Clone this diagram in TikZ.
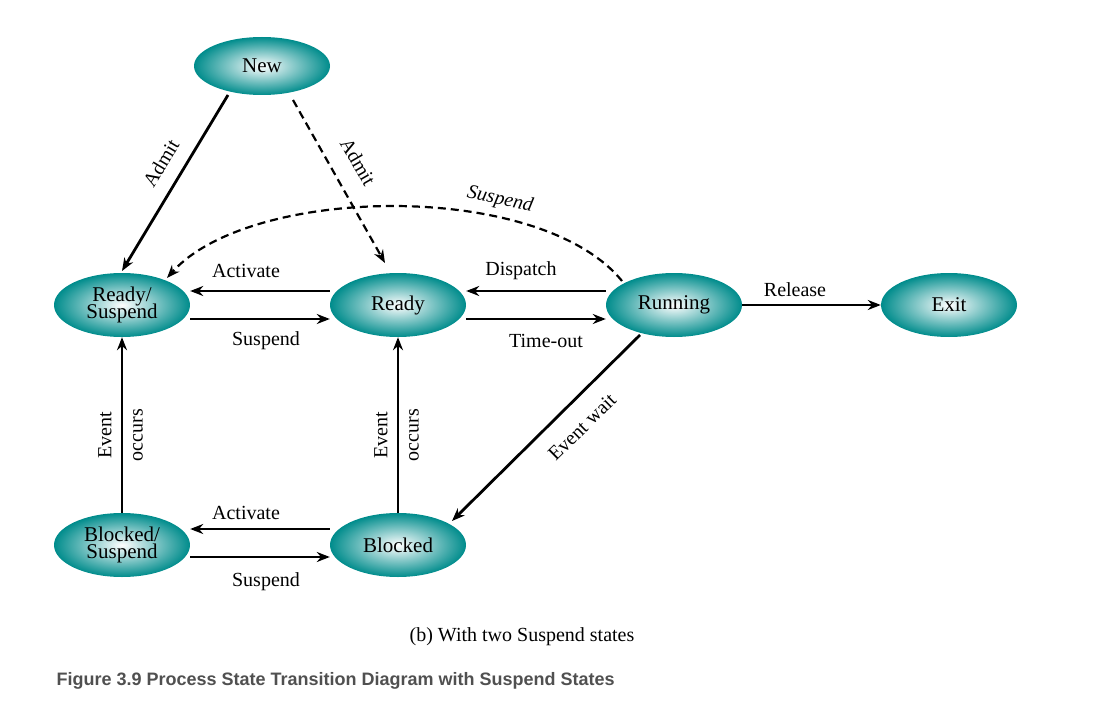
\documentclass[tikz,border=0pt]{standalone}
\usepackage{fontspec}
\setmainfont{Liberation Serif}
\newfontfamily\capfont{Liberation Sans}
\usetikzlibrary{shapes.geometric,arrows.meta}
\definecolor{teal1}{RGB}{0,140,140}
\definecolor{capgray}{RGB}{80,80,80}
\begin{document}
\begin{tikzpicture}[x=1pt,y=-1pt,
  st/.style={ellipse,minimum width=136pt,minimum height=64pt,inner color=white,outer color=teal1,font=\fontsize{21}{21}\selectfont,align=center,inner sep=0pt},
  lab/.style={font=\fontsize{20}{20}\selectfont,inner sep=1pt},
  arr/.style={line width=2.8pt,-{Stealth[length=13pt,width=10pt]}},
  darr/.style={arr,line width=2.2pt,dash pattern=on 8pt off 5pt}]
\useasboundingbox (0,0) rectangle (1108,706);
\node[st,minimum height=58pt] (new) at (262,66) {New};
\node[st] (rs) at (122,305) {Ready/\\[-4pt]Suspend};
\node[st] (ready) at (398,305) {Ready};
\node[st] (run) at (674,305) {Running};
\node[st] (exit) at (949,305) {Exit};
\node[st] (bs) at (122,545) {Blocked/\\[-4pt]Suspend};
\node[st] (bl) at (398,545) {Blocked};
\coordinate (n1) at (228,95); \coordinate (r1) at (122,271);
\draw[arr] (n1) -- (r1);
\node[lab,rotate=59] (ad1) at (161,163) {Admit};
\coordinate (n2) at (293,100); \coordinate (r2) at (385,263);
\draw[darr] (n2) -- (r2);
\node[lab,rotate=-60] (ad2) at (358,162) {Admit};
\coordinate (q1) at (622,281); \coordinate (q2) at (167,278);
\draw[darr] (q1) .. controls (540,180) and (250,185) .. (q2);
\node[lab,rotate=-12] (sus) at (500,200) {\itshape Suspend};
\draw[arr] ([yshift=-14pt]rs.east) -- ([yshift=-14pt]ready.west);
\node[lab] (l1) at (246,271) {Activate};
\draw[arr] ([yshift=14pt]ready.west) -- ([yshift=14pt]rs.east);
\node[lab] (l2) at (266,341) {Suspend};
\draw[arr] ([yshift=-14pt]ready.east) -- ([yshift=-14pt]run.west);
\node[lab] (l3) at (521,271) {Dispatch};
\draw[arr] ([yshift=14pt]run.west) -- ([yshift=14pt]ready.east);
\node[lab] (l4) at (546,341) {Time-out};
\draw[arr] (run) -- (exit);
\node[lab] (l5) at (795,290) {Release};
\coordinate (w1) at (640,335); \coordinate (w2) at (452,521);
\draw[arr] (w1) -- (w2);
\node[lab,rotate=44.5] (ew) at (582,427) {Event wait};
\draw[arr] (bs) -- (rs);
\node[lab,rotate=90] (e1) at (105,435) {Event};
\node[lab,rotate=90] (o1) at (138,435) {occurs};
\draw[arr] (bl) -- (ready);
\node[lab,rotate=90] (e2) at (381,435) {Event};
\node[lab,rotate=90] (o2) at (414,435) {occurs};
\draw[arr] ([yshift=-12pt]bs.east) -- ([yshift=-12pt]bl.west);
\node[lab] (l6) at (246,513) {Activate};
\draw[arr] ([yshift=16pt]bl.west) -- ([yshift=16pt]bs.east);
\node[lab] (l7) at (266,582) {Suspend};
\node[lab] (sub) at (522,637) {(b) With two Suspend states};
\node[anchor=west,text=capgray,font=\capfont\bfseries\fontsize{18}{18}\selectfont] (cap) at (53,681) {Figure 3.9 Process State Transition Diagram with Suspend States};
\end{tikzpicture}
\end{document}
